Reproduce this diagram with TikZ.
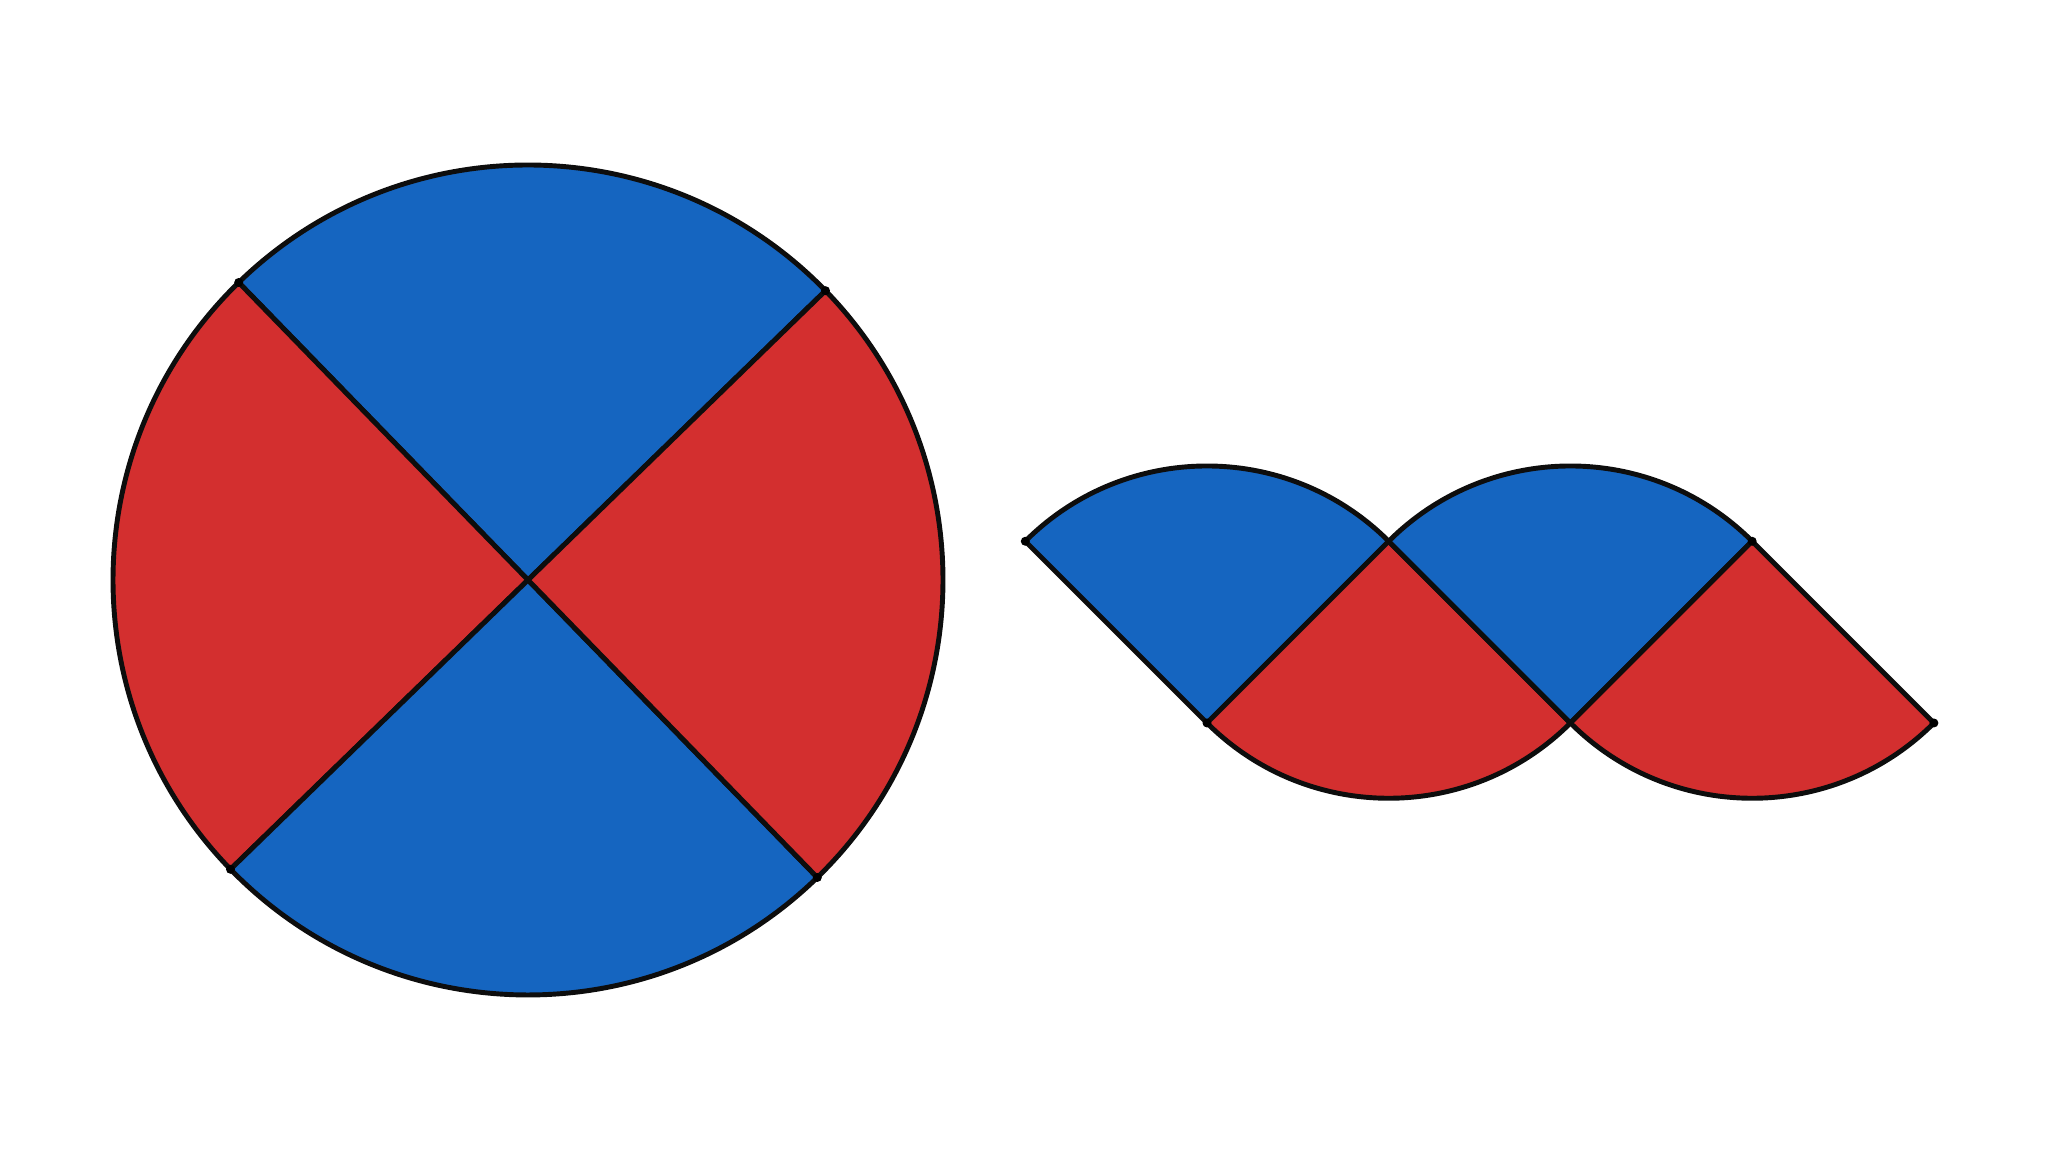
\documentclass[tikz,border=0pt]{standalone}
\usepackage{tikz}
\usepackage{xcolor}
\definecolor{sectorblue}{HTML}{1565C0}
\definecolor{sectorred}{HTML}{D32F2F}
\tikzset{
	bluepart/.style={fill=sectorblue, draw=black!95, line width=1.4pt, line join=round},
	redpart/.style={fill=sectorred, draw=black!95, line width=1.4pt, line join=round},
	vertexdot/.style={fill=black}
}

\begin{document}
\begin{tikzpicture}
		\useasboundingbox (0,0) rectangle (20.48,11.52);
		
		% whole disc cut into four sectors
		\coordinate (C) at (5.28,5.72);
		\coordinate (UR) at ([shift={(44.2:4.15)}]C);
		\coordinate (UL) at ([shift={(134.2:4.15)}]C);
		\coordinate (LL) at ([shift={(224.2:4.15)}]C);
		\coordinate (LR) at ([shift={(314.2:4.15)}]C);
		
		\draw[bluepart] (C) -- (UR) arc[start angle=44.2, end angle=134.2, radius=4.15] -- cycle;
		\draw[redpart] (C) -- (UL) arc[start angle=134.2, end angle=224.2, radius=4.15] -- cycle;
		\draw[bluepart] (C) -- (LL) arc[start angle=224.2, end angle=314.2, radius=4.15] -- cycle;
		\draw[redpart] (C) -- (LR) arc[start angle=314.2, end angle=404.2, radius=4.15] -- cycle;
		
		% sectors laid side by side
		\coordinate (B) at (12.07,4.29);
		\coordinate (A) at ([shift={(135:2.57)}]B);
		\coordinate (D) at ([shift={(45:2.57)}]B);
		\coordinate (E) at ([shift={(-45:2.57)}]D);
		\coordinate (F) at ([shift={(45:2.57)}]E);
		\coordinate (G) at ([shift={(-45:2.57)}]F);
		
		\draw[bluepart] (B) -- (A) arc[start angle=135, end angle=45, radius=2.57] -- cycle;
		\draw[redpart] (D) -- (B) arc[start angle=225, end angle=315, radius=2.57] -- cycle;
		\draw[bluepart] (E) -- (D) arc[start angle=135, end angle=45, radius=2.57] -- cycle;
		\draw[redpart] (F) -- (E) arc[start angle=225, end angle=315, radius=2.57] -- cycle;
		
		\foreach \p in {UL,UR,LL,LR,A,B,F,G}
			\fill[vertexdot] (\p) circle (0.045);
	\end{tikzpicture}
\end{document}
